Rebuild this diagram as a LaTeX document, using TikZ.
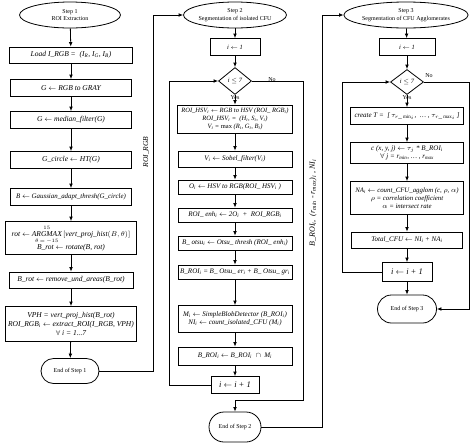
\documentclass[tikz,border=0pt]{standalone}
\usepackage{fontspec}
\setmainfont{Liberation Serif}
\usetikzlibrary{shapes.geometric,shapes.misc,arrows.meta}
\newcommand{\fsz}{\fontsize{6}{7.4}\selectfont}
\newcommand{\fszbox}{\fontsize{7}{8.2}\selectfont}
\newcommand{\fszboxa}{\fontsize{7.5}{8.6}\selectfont}
\newcommand{\fszboxb}{\fontsize{6.5}{8.2}\selectfont}
\newcommand{\lar}{$\leftarrow$}
\newcommand{\sbs}[1]{\textsubscript{#1}}
\tikzset{
  ln/.style={line width=0.8pt, draw=black},
  arr/.style={ln, -{Latex[length=4.5pt,width=3.8pt]}},
  box/.style={ln, draw, rectangle, align=center, inner sep=1pt, font=\fszbox\itshape},
  boxa/.style={box, font=\fszboxa\itshape},
  term/.style={ln, draw, ellipse, align=center, inner sep=0pt, font=\fsz},
  endbox/.style={ln, draw, rounded rectangle, align=center, inner sep=0pt, font=\fsz},
  dec/.style={ln, draw, diamond, inner sep=0pt, font=\fszboxb\itshape},
  incbox/.style={box, font=\fontsize{8.5}{9}\selectfont\itshape},
  lbl/.style={font=\fsz, inner sep=0.5pt},
  rlbl/.style={font=\fontsize{7.5}{8}\selectfont\itshape, rotate=90, inner sep=0pt}
}
\begin{document}
\begin{tikzpicture}[x=1pt,y=-1pt]
\useasboundingbox (0,0) rectangle (474,445);
% ---------------- Column 1
\node[term, minimum width=101pt, minimum height=26pt] (s1) at (70,15) {Step 1\\ROI Extraction};
\node[boxa, minimum width=123pt, minimum height=16pt] (b1) at (71,55) {Load I\_RGB = \ (I\sbs{R}, I\sbs{G}, I\sbs{B})};
\node[boxa, minimum width=121pt, minimum height=17pt] (b2) at (71,88) {G \lar{} RGB to GRAY};
\node[boxa, minimum width=121pt, minimum height=17pt] (b3) at (71,120) {G \lar{} median\_filter(G)};
\node[boxa, minimum width=121pt, minimum height=17pt] (b4) at (71,160) {G\_circle \lar{} HT(G)};
\node[box, minimum width=121pt, minimum height=17pt, font=\fontsize{6.9}{8}\selectfont\itshape] (b5) at (71,197) {B \lar{} Gaussian\_adapt\_thresh(G\_circle)};
\node[boxa, minimum width=131pt, minimum height=33pt] (b6) at (71,238) {rot \lar{} $\displaystyle\mathop{\textit{ARGMAX}}\limits_{\theta\,=\,-15}^{15}\,[\textit{vert\_proj\_hist}(B,\theta)]$\\[-1pt] B\_rot \lar{} rotate(B, rot)};
\node[boxa, minimum width=124pt, minimum height=16pt] (b7) at (71,280) {B\_rot \lar{} remove\_und\_areas(B\_rot)};
\node[boxa, minimum width=131pt, minimum height=35pt] (b8) at (71,324) {VPH = vert\_proj\_hist(B\_rot)\\ ROI\_RGB\sbs{i} \lar{} extract\_ROI(I\_RGB, VPH)\\ $\forall$ i = 1...7};
\node[endbox, minimum width=58pt, minimum height=25pt] (e1) at (70,371) {End of Step 1};
\foreach \a/\b in {s1/b1,b1/b2,b2/b3,b3/b4,b4/b5,b5/b6,b6/b7,b7/b8,b8/e1}
  \draw[arr] (\a) -- (\b);
\node[rlbl] (l1) at (146,152) {ROI\_RGB};
% ---------------- Column 2
\node[term, minimum width=93pt, minimum height=26pt] (s2) at (235,15) {Step 2\\Segmentation of isolated CFU};
\node[box, minimum width=50pt, minimum height=17pt, font=\fszboxb\itshape] (c1) at (235,47) {i \lar{} 1};
\node[dec, minimum width=33pt, minimum height=27pt] (d2) at (235,81) {i $\leq$ 7};
\node[box, minimum width=115pt, minimum height=28pt, font=\fszboxb\itshape] (c2) at (235,119) {ROI\_HSV\sbs{i} \lar{} RGB to HSV (ROI\_ RGB\sbs{i})\\ ROI\_HSV\sbs{i} = \ (H\sbs{i}, S\sbs{i}, V\sbs{i})\\ V\sbs{i} = \upshape max \itshape(R\sbs{i}, G\sbs{i}, B\sbs{i})};
\node[box, minimum width=114pt, minimum height=16pt] (c3) at (235,159) {V\sbs{i} \lar{} Sobel\_filter(V\sbs{i})};
\node[box, minimum width=114pt, minimum height=14pt] (c4) at (235,187) {O\sbs{i} \lar{} HSV to RGB(ROI\_ HSV\sbs{i} )};
\node[box, minimum width=114pt, minimum height=14pt] (c5) at (235,215) {ROI\_ enh\sbs{i} \lar{} 2O\sbs{i} \ + \ ROI\_RGB\sbs{i}};
\node[box, minimum width=114pt, minimum height=14pt] (c6) at (235,243) {B\_ otsu\sbs{i} \lar{} Otsu\_ thresh (ROI\_ enh\sbs{i})};
\node[box, minimum width=114pt, minimum height=14pt] (c7) at (235,272) {B\_ROI\sbs{i} = B\_ Otsu\_ er\sbs{i} + B\_ Otsu\_ gr\sbs{i}};
\node[box, minimum width=114pt, minimum height=27pt] (c8) at (235,319) {M\sbs{i} \lar{} SimpleBlobDetector (B\_ROI\sbs{i})\\ NI\sbs{i} \lar{} count\_isolated\_CFU (M\sbs{i})};
\node[box, minimum width=114pt, minimum height=18pt] (c9) at (235,356) {B\_ROI\sbs{i} \lar{} B\_ROI\sbs{i} \ $\cap$ \ M\sbs{i}};
\node[incbox, minimum width=48pt, minimum height=17pt] (c10) at (235,385) {i \lar{} i + 1};
\node[endbox, minimum width=52pt, minimum height=30pt] (e2) at (235,427) {End of Step 2};
\foreach \a/\b in {s2/c1,c1/d2,d2/c2,c2/c3,c3/c4,c4/c5,c5/c6,c6/c7,c7/c8,c8/c9,c9/c10}
  \draw[arr] (\a) -- (\b);
\node[lbl, anchor=north] (y2) at (d2.south) {Yes};
\node[lbl, fill=white] (n2) at (272,80) {No};
\coordinate (k2l) at (169,0);
\coordinate (k2r) at (303,0);
\coordinate (k2b) at (303,400);
\draw[arr] (c10.west) -- (c10.west -| k2l) |- (d2.west);
\draw[arr] (d2.east) -- (d2.east -| k2r) -- (k2b) -| (e2.north);
\node[rlbl, font=\fontsize{8}{9}\selectfont\itshape] (l2) at (313,203) {B\_ROI\sbs{i}, \ (r\sbs{min} - r\sbs{max})\sbs{i} , NI\sbs{i}};
% ---------------- Column 3
\node[term, minimum width=105pt, minimum height=26pt] (s3) at (406,15) {Step 3\\Segmentation of CFU Agglomerates};
\node[box, minimum width=56pt, minimum height=17pt, font=\fszboxb\itshape] (f1) at (407,47) {i \lar{} 1};
\node[dec, minimum width=33pt, minimum height=25pt] (d3) at (407,82) {i $\leq$ 7};
\node[box, minimum width=113pt, minimum height=17pt] (f2) at (407,116) {create T = \ [\,$\tau_{r\_\min_i}$, \ \dots\ , $\tau_{r\_\max_i}$\,]};
\node[box, minimum width=113pt, minimum height=21pt] (f3) at (407,153) {c (x, y, j) \lar{} $\tau_j$ * B\_ROI\sbs{i}\\ $\forall$ j = r\sbs{min}, \dots\ , r\sbs{max}};
\node[box, minimum width=113pt, minimum height=33pt, font=\fontsize{6.8}{8.2}\selectfont\itshape] (f4) at (407,198) {NA\sbs{i} \lar{} count\_CFU\_agglom (c, $\rho$, $\alpha$)\\ $\rho$ = correlation coefficient\\ $\alpha$ = intersect rate};
\node[box, minimum width=111pt, minimum height=16pt] (f5) at (407,240) {Total\_CFU \lar{} NI\sbs{i} + NA\sbs{i}};
\node[incbox, minimum width=50pt, minimum height=19pt] (f6) at (407,272) {i \lar{} i + 1};
\node[endbox, minimum width=59pt, minimum height=28pt] (e3) at (407,309) {End of Step 3};
\foreach \a/\b in {s3/f1,f1/d3,d3/f2,f2/f3,f3/f4,f4/f5,f5/f6,f6/e3}
  \draw[arr] (\a) -- (\b);
\node[lbl, anchor=north] (y3) at (d3.south) {Yes};
\node[lbl] (n3) at (429,76) {No};
\coordinate (k3l) at (342,0);
\coordinate (k3r) at (469,0);
\draw[arr] (f6.west) -- (f6.west -| k3l) |- (d3.west);
\draw[arr] (d3.east) -- (d3.east -| k3r) |- (e3.east);
% ---------------- Cross-column connectors
\coordinate (k1) at (153,0);
\draw[arr] (e1.east) -- (e1.east -| k1) |- (s2.west);
\coordinate (k3) at (322,0);
\draw[arr] (e2.east) -- (e2.east -| k3) |- (s3.west);
\end{tikzpicture}
\end{document}
